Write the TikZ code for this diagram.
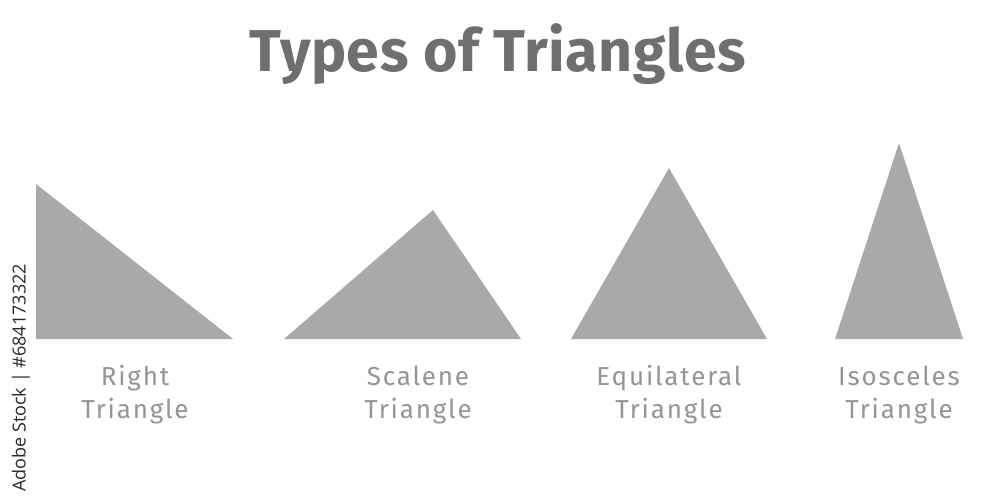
\documentclass[tikz,border=0pt]{standalone}
\usepackage{fontspec}
\setmainfont{Fira Sans}
\newfontfamily\lblfont[LetterSpace=7]{Fira Sans}
\newfontfamily\ttlfont[LetterSpace=1]{Fira Sans}
\newfontfamily\wmfont{Open Sans}
\definecolor{trifill}{HTML}{A7A9AB}
\definecolor{titlecol}{HTML}{6D6F71}
\definecolor{labelcol}{HTML}{939598}
\definecolor{wmcol}{HTML}{2A2A2A}
\begin{document}
\begin{tikzpicture}[x=1pt,y=-1pt,
  tri/.style={fill=trifill,draw=none},
  lbl/.style={text=labelcol,font=\lblfont\fontsize{26}{33}\selectfont,align=center,inner sep=0pt,anchor=base},
  ttl/.style={text=titlecol,font=\ttlfont\fontsize{59}{62}\selectfont\bfseries,inner sep=0pt,anchor=base}]
\useasboundingbox[fill=white] (0,0) rectangle (1000,500);
% title
\node[ttl] (title) at (498,72) {Types of Triangles};
% triangles
\fill[tri] (36,184) -- (36,339) -- (233,339) -- cycle;
\fill[tri] (284,339) -- (433,210) -- (521,339) -- cycle;
\fill[tri] (571,339) -- (669,168) -- (767,339) -- cycle;
\fill[tri] (835,339) -- (899,143) -- (963,339) -- cycle;
% labels
\node[lbl] (l1a) at (135,385) {Right};
\node[lbl] (l1b) at (135,418) {Triangle};
\node[lbl] (l2a) at (418,385) {Scalene};
\node[lbl] (l2b) at (418,418) {Triangle};
\node[lbl] (l3a) at (669,385) {Equilateral};
\node[lbl] (l3b) at (669,418) {Triangle};
\node[lbl] (l4a) at (899,385) {Isosceles};
\node[lbl] (l4b) at (899,418) {Triangle};
% watermark
\node[rotate=90,text=wmcol,font=\wmfont\fontsize{18}{20}\selectfont,inner sep=0pt] (wm) at (21,378) {Adobe Stock | \#684173322};
\end{tikzpicture}
\end{document}
